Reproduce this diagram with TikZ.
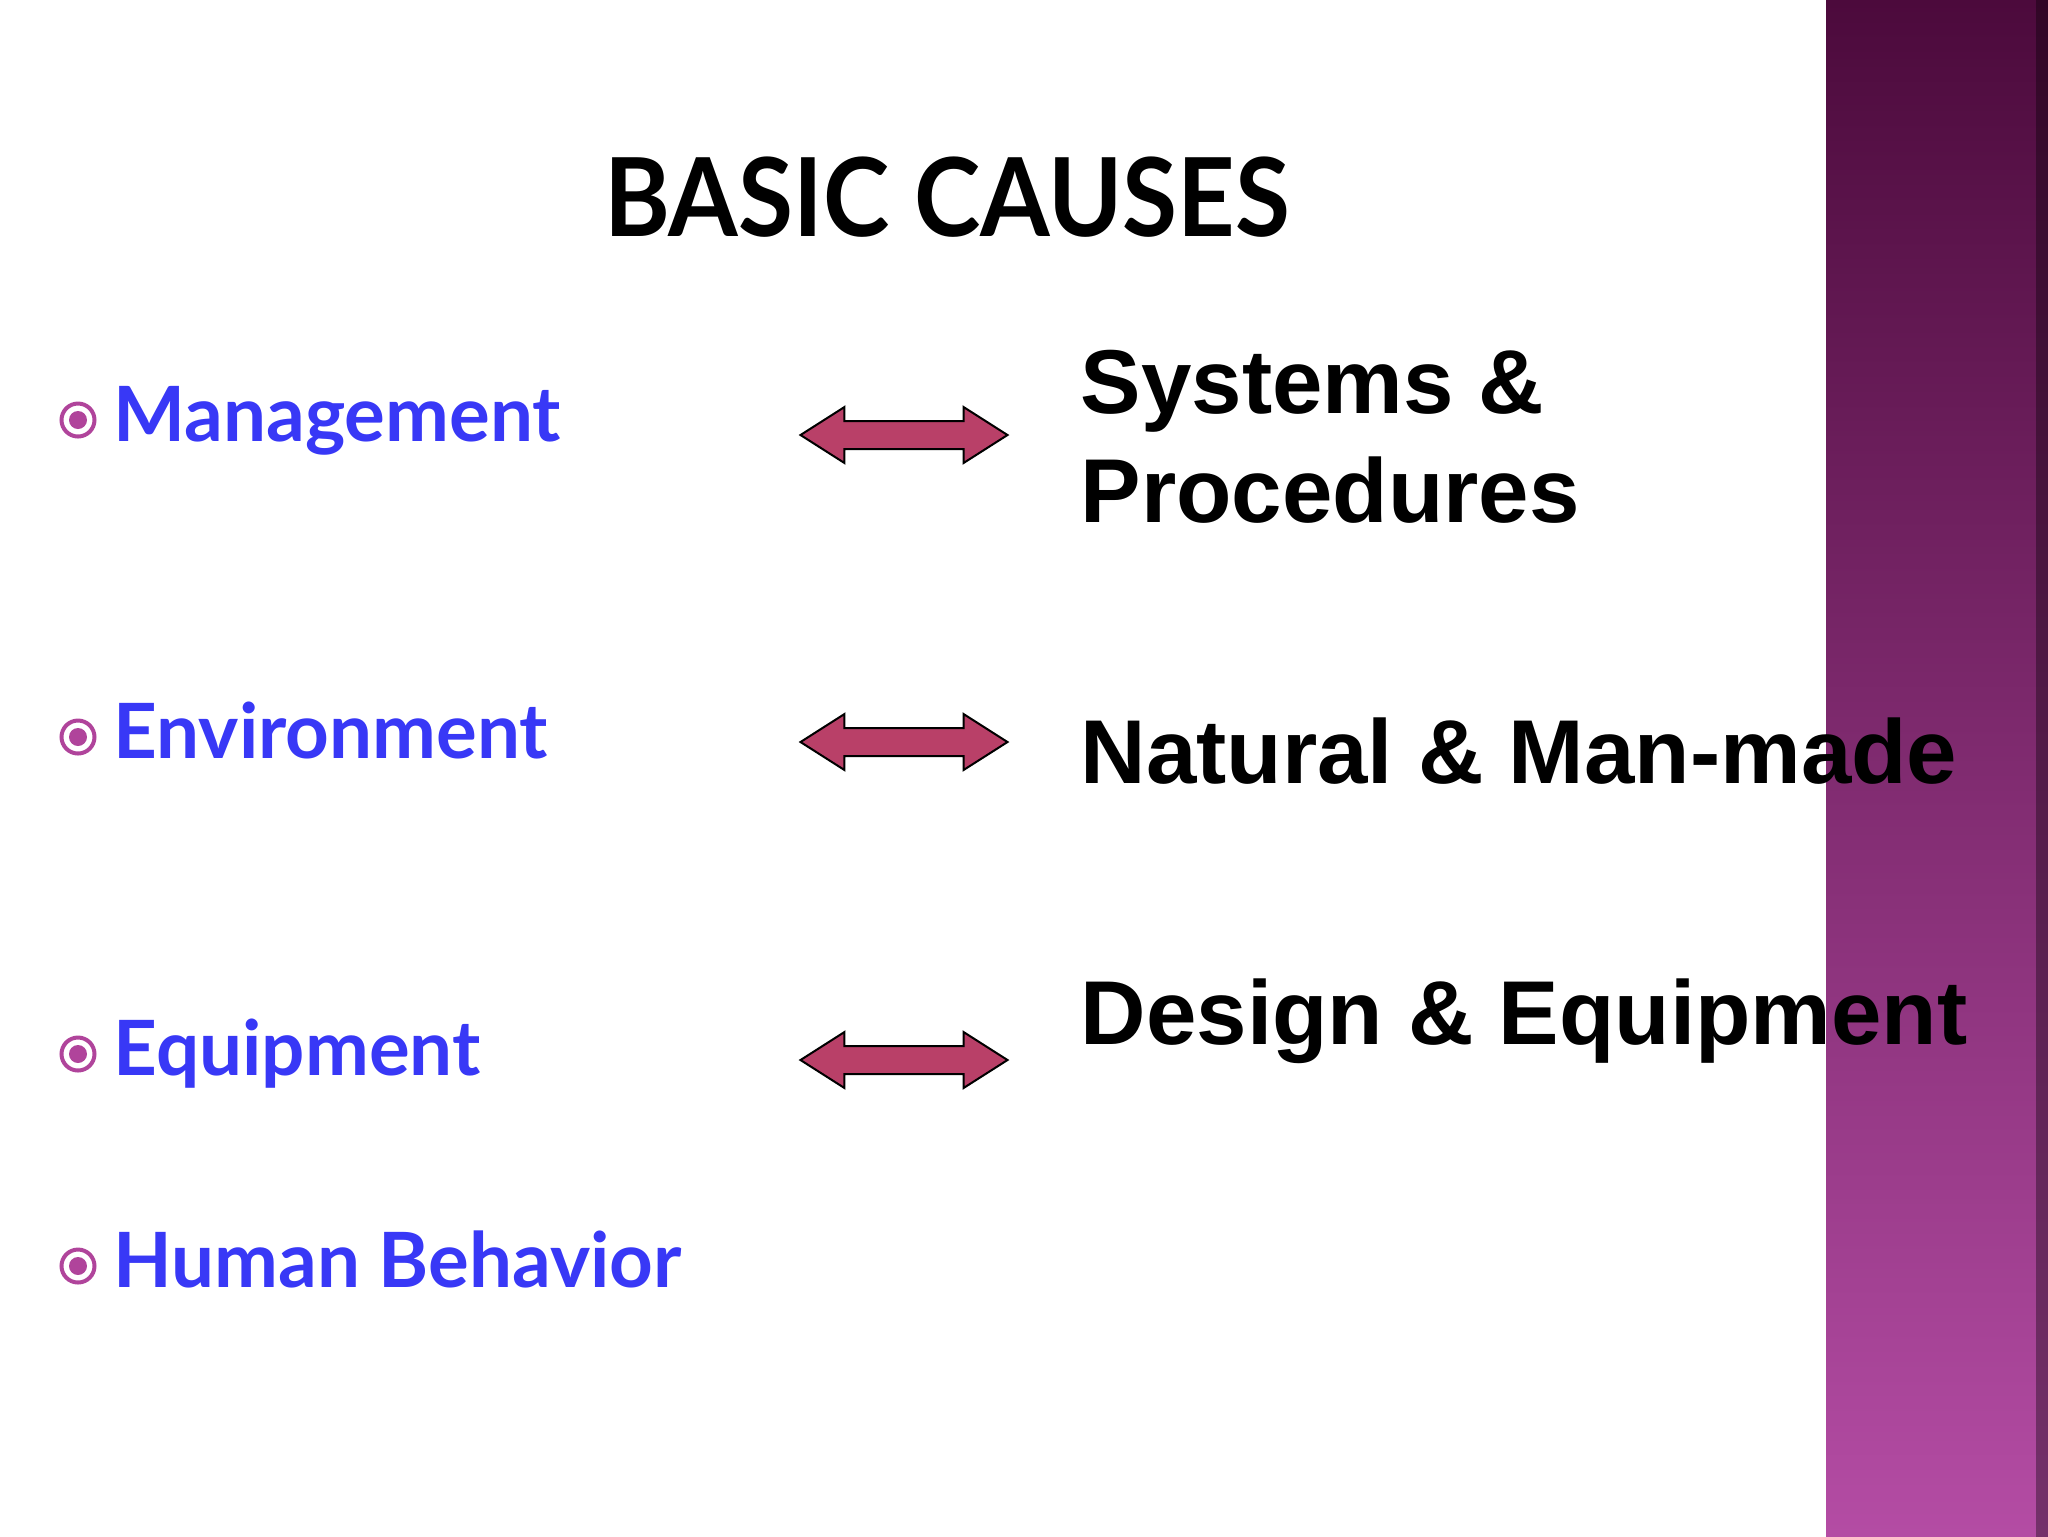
\documentclass[tikz,border=0pt]{standalone}
\usepackage{fontspec}
\setmainfont{Liberation Sans}
\newfontfamily\itemfont{Lato}
\newfontfamily\titlefont[FakeStretch=0.92]{Lato}
\usetikzlibrary{shapes.arrows}

\definecolor{itemblue}{RGB}{56,56,246}
\definecolor{bulletpink}{RGB}{176,68,155}
\definecolor{arrowred}{RGB}{185,64,104}
\definecolor{bartop}{RGB}{76,10,60}
\definecolor{barmid}{RGB}{140,50,128}
\definecolor{barbottom}{RGB}{180,76,164}

\tikzset{
  itemtext/.style={anchor=base west,inner sep=0pt,text=itemblue,
    font=\itemfont\bfseries\fontsize{21.7}{26}\selectfont},
  causetext/.style={anchor=base west,inner sep=0pt,align=left,
    font=\bfseries\fontsize{25.8}{31}\selectfont},
  bulletring/.style={circle,draw=bulletpink,line width=0.4mm,minimum size=3.3mm,inner sep=0pt,
    path picture={\fill[bulletpink] (path picture bounding box.center) circle (0.9mm);}},
  twoway/.style={double arrow,draw=black,line width=0.2mm,fill=arrowred,
    minimum height=20.7mm,inner sep=1.3mm,double arrow head extend=1.4mm,
    double arrow tip angle=65}
}

\begin{document}
\begin{tikzpicture}[x=0.1mm,y=-0.1mm]
\useasboundingbox (0,0) rectangle (2048,1536);

% purple side bar
\shade[top color=bartop,middle color=barmid,bottom color=barbottom] (1826,0) rectangle (2048,1536);
\shade[left color=barbottom!0!black,right color=black,opacity=0.35] (2036,0) rectangle (2048,1536);

% title
\node[anchor=base,inner sep=0pt,font=\titlefont\bfseries\fontsize{31}{36}\selectfont] (title) at (947,236) {BASIC CAUSES};

% left column
\foreach \name/\txt/\y in {mgmt/Management/441, env/Environment/758, equip/Equipment/1075, human/Human Behavior/1287} {
  \node[bulletring] (b-\name) at (78,\y-21) {};
  \node[itemtext] (\name) at (113,\y) {\txt};
}

% arrows
\node[twoway] (arr-mgmt) at (904,435) {};
\node[twoway] (arr-env) at (904,742) {};
\node[twoway] (arr-equip) at (904,1060) {};

% right column
\node[causetext] (sys) at (1080,522) {Systems \&\\Procedures};
\node[causetext] (nat) at (1080,783) {Natural \& Man-made};
\node[causetext] (des) at (1080,1044) {Design \& Equipment};
\end{tikzpicture}
\end{document}
